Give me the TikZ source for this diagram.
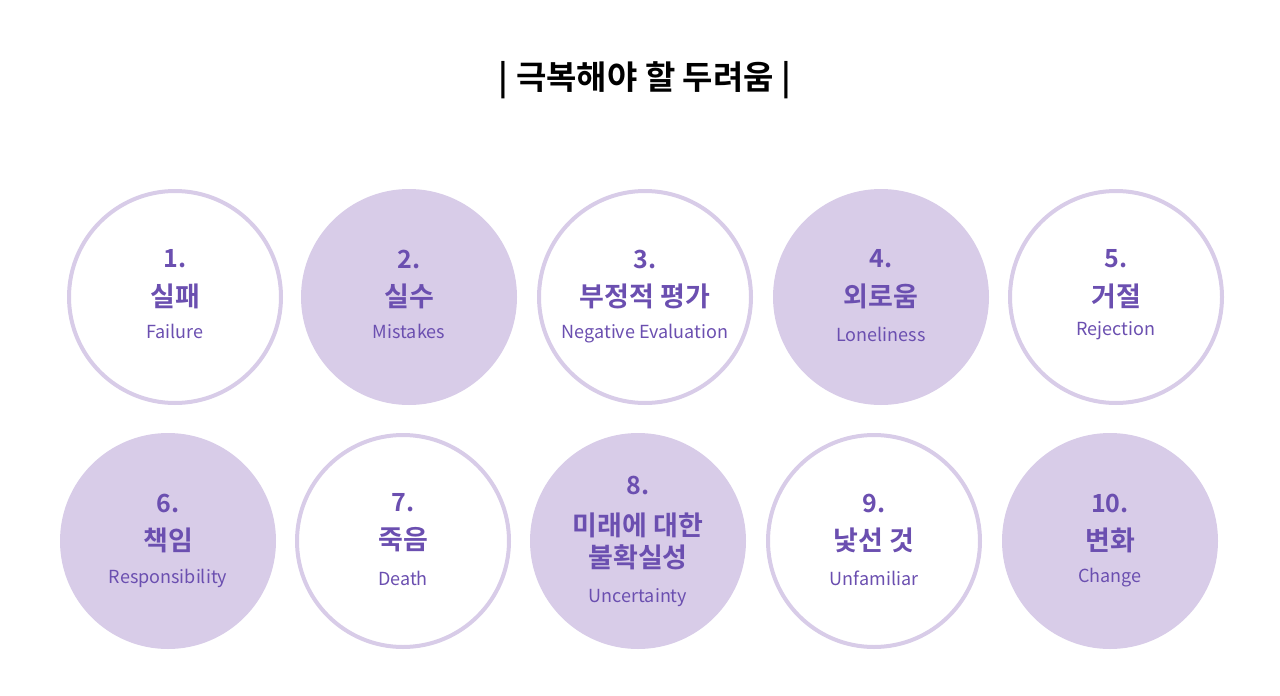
\documentclass[tikz,border=0pt]{standalone}
\usepackage{fontspec}
\setmainfont{Noto Sans CJK KR}
\newfontfamily\kb{Noto Sans CJK KR Bold}
\definecolor{lav}{HTML}{D8CCE8}
\definecolor{pur}{HTML}{6B4FB0}
\begin{document}
\begin{tikzpicture}[x=1pt,y=-1pt,
  filledc/.style={circle,fill=lav,draw=lav,line width=4pt,minimum size=212pt,inner sep=0pt},
  whitec/.style={circle,fill=white,draw=lav,line width=4pt,minimum size=212pt,inner sep=0pt},
  num/.style={text=pur,font=\kb\fontsize{25}{28}\selectfont},
  kor/.style={text=pur,font=\kb\fontsize{27}{36}\selectfont,align=center},
  eng/.style={text=pur,font=\fontsize{18}{20}\selectfont}]
\useasboundingbox (0,0) rectangle (1280,696);
\node (t) at (645,80) {\kb\fontsize{33}{36}\selectfont | 극복해야 할 두려움 |};
\def\item#1#2#3#4#5#6#7{%
 \node[#1] (c#2) at (#3,#4) {};
 \node[num] (n#2) at (#3,#4-38) {#2.};
 \node[kor] (k#2) at (#3,#4-1) {#5};
 \node[eng] (e#2) at (#3,#4+#7) {#6};}
\item{whitec}{1}{175}{297}{실패}{Failure}{34}
\item{filledc}{2}{409}{297}{실수}{Mistakes}{34}
\item{whitec}{3}{645}{297}{부정적 평가}{Negative Evaluation}{37}
\item{filledc}{4}{881}{297}{외로움}{Loneliness}{37}
\item{whitec}{5}{1116}{297}{거절}{Rejection}{34}
\item{filledc}{6}{168}{541}{책임}{Responsibility}{37}
\item{whitec}{7}{403}{541}{죽음}{Death}{37}
\node[filledc] (c8) at (638,541) {};
\node[num] (n8) at (638,485) {8.};
\node[kor] (k8) at (638,541) {미래에 대한\\[-4pt]불확실성};
\node[eng] (e8) at (638,598) {Uncertainty};
\item{whitec}{9}{874}{541}{낯선 것}{Unfamiliar}{37}
\item{filledc}{10}{1110}{541}{변화}{Change}{37}
\end{tikzpicture}
\end{document}
